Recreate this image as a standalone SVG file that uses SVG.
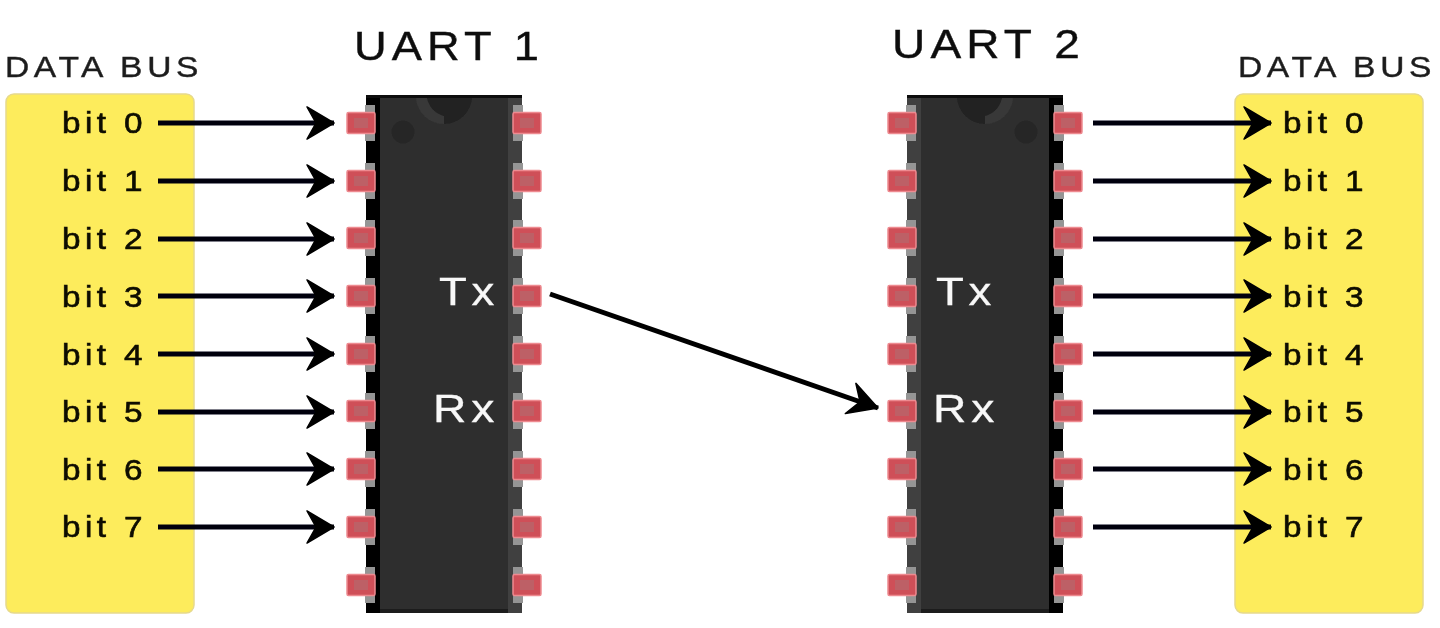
<svg xmlns="http://www.w3.org/2000/svg" width="1440" height="628" viewBox="0 0 1440 628">
<style>
text{font-family:"Liberation Sans",Arial,sans-serif}
.bus{fill:#fdec5c;stroke:#e6d98c;stroke-width:1.500}
.hd{font-size:29px;letter-spacing:4px;fill:#1e1e1e;stroke:#1e1e1e;stroke-width:.4px}
.bit{font-size:30px;letter-spacing:4px;fill:#0c0a00;stroke:#0c0a00;stroke-width:.6px}
.title{font-size:40px;letter-spacing:4.500px;fill:#111;stroke:#111;stroke-width:.4px}
.sig{font-size:39px;letter-spacing:4px;fill:#f8f8f8;stroke:#f8f8f8;stroke-width:.3px}
.wire{stroke:#02020f;stroke-width:5;fill:none;marker-end:url(#ah)}
.wire2{stroke:#000;stroke-width:5;fill:none;marker-end:url(#ah2)}
</style>
<defs>
<filter id="soft" x="-5%" y="-5%" width="110%" height="110%"><feGaussianBlur stdDeviation="0.7"/></filter>
<marker id="ah" markerUnits="userSpaceOnUse" markerWidth="32" markerHeight="38" refX="28" refY="19" orient="auto">
<path d="M1 3L28 19L1 35L10 19Z" fill="#000" stroke="#000" stroke-width="1.500" stroke-linejoin="round"/>
</marker>
<marker id="ah2" markerUnits="userSpaceOnUse" markerWidth="36" markerHeight="38" refX="30" refY="19" orient="auto">
<path d="M1 3L30 19L1 35L11 19Z" fill="#000" stroke="#000" stroke-width="1.500" stroke-linejoin="round"/>
</marker>
<g id="pad"><rect x="-14" y="-10.500" width="28" height="21" rx="1.500" fill="#cf4f58" stroke="#ee8a90" stroke-width="1.500"/><rect x="-7" y="-5" width="14" height="10" fill="#bd6066"/></g>
<g id="nub"><rect x="-5" y="-18" width="10" height="36" fill="#959595"/></g>
</defs>
<rect width="1440" height="628" fill="#fff"/>
<g filter="url(#soft)">
<g id="bus-left">
<text class="hd" x="5" y="77" textLength="198" lengthAdjust="spacingAndGlyphs">DATA BUS</text>
<rect class="bus" x="6" y="94" width="188" height="519" rx="8"/>
<g class="bit">
<text x="62" y="133" textLength="85" lengthAdjust="spacingAndGlyphs">bit 0</text>
<text x="62" y="191" textLength="85" lengthAdjust="spacingAndGlyphs">bit 1</text>
<text x="62" y="249" textLength="85" lengthAdjust="spacingAndGlyphs">bit 2</text>
<text x="62" y="307" textLength="85" lengthAdjust="spacingAndGlyphs">bit 3</text>
<text x="62" y="365" textLength="85" lengthAdjust="spacingAndGlyphs">bit 4</text>
<text x="62" y="422" textLength="85" lengthAdjust="spacingAndGlyphs">bit 5</text>
<text x="62" y="480" textLength="85" lengthAdjust="spacingAndGlyphs">bit 6</text>
<text x="62" y="537" textLength="85" lengthAdjust="spacingAndGlyphs">bit 7</text>
</g>
</g>
<g id="bus-right">
<text class="hd" x="1238" y="77" textLength="198" lengthAdjust="spacingAndGlyphs">DATA BUS</text>
<rect class="bus" x="1235" y="94" width="188" height="519" rx="8"/>
<g class="bit">
<text x="1283" y="133" textLength="85" lengthAdjust="spacingAndGlyphs">bit 0</text>
<text x="1283" y="191" textLength="85" lengthAdjust="spacingAndGlyphs">bit 1</text>
<text x="1283" y="249" textLength="85" lengthAdjust="spacingAndGlyphs">bit 2</text>
<text x="1283" y="307" textLength="85" lengthAdjust="spacingAndGlyphs">bit 3</text>
<text x="1283" y="365" textLength="85" lengthAdjust="spacingAndGlyphs">bit 4</text>
<text x="1283" y="422" textLength="85" lengthAdjust="spacingAndGlyphs">bit 5</text>
<text x="1283" y="480" textLength="85" lengthAdjust="spacingAndGlyphs">bit 6</text>
<text x="1283" y="537" textLength="85" lengthAdjust="spacingAndGlyphs">bit 7</text>
</g>
</g>
<g id="uart-1">
<text class="title" x="354" y="60" textLength="190" lengthAdjust="spacingAndGlyphs">UART 1</text>
<rect x="366" y="95" width="156" height="518" fill="#2f2f2f"/>
<rect x="366" y="95" width="14" height="518" fill="#000"/>
<rect x="508" y="95" width="14" height="518" fill="#3f3f3f"/>
<rect x="366" y="95" width="156" height="3" fill="#111"/>
<rect x="380" y="609" width="128" height="4" fill="#1c1c1c"/>
<path d="M416 98A28 28 0 0 0 444 124V98Z" fill="#383838"/>
<path d="M427 98A23 23 0 0 0 444 116L444 124A28 28 0 0 0 472 98Z" fill="#222"/>
<circle cx="403" cy="132" r="11.500" fill="#282828"/>
<g id="u1-nubs"><use href="#nub" x="370" y="123"/><use href="#nub" x="370" y="181"/><use href="#nub" x="370" y="238"/><use href="#nub" x="370" y="296"/><use href="#nub" x="370" y="354"/><use href="#nub" x="370" y="411"/><use href="#nub" x="370" y="469"/><use href="#nub" x="370" y="527"/><use href="#nub" x="370" y="585"/><use href="#nub" x="518" y="123"/><use href="#nub" x="518" y="181"/><use href="#nub" x="518" y="238"/><use href="#nub" x="518" y="296"/><use href="#nub" x="518" y="354"/><use href="#nub" x="518" y="411"/><use href="#nub" x="518" y="469"/><use href="#nub" x="518" y="527"/><use href="#nub" x="518" y="585"/></g>
<g id="u1-pads"><use href="#pad" x="361" y="123"/><use href="#pad" x="361" y="181"/><use href="#pad" x="361" y="238"/><use href="#pad" x="361" y="296"/><use href="#pad" x="361" y="354"/><use href="#pad" x="361" y="411"/><use href="#pad" x="361" y="469"/><use href="#pad" x="361" y="527"/><use href="#pad" x="361" y="585"/><use href="#pad" x="527" y="123"/><use href="#pad" x="527" y="181"/><use href="#pad" x="527" y="238"/><use href="#pad" x="527" y="296"/><use href="#pad" x="527" y="354"/><use href="#pad" x="527" y="411"/><use href="#pad" x="527" y="469"/><use href="#pad" x="527" y="527"/><use href="#pad" x="527" y="585"/></g>
<text class="sig" x="439" y="305" textLength="60" lengthAdjust="spacingAndGlyphs">Tx</text>
<text class="sig" x="433" y="422" textLength="66" lengthAdjust="spacingAndGlyphs">Rx</text>
</g>
<g id="uart-2">
<text class="title" x="892" y="58" textLength="193" lengthAdjust="spacingAndGlyphs">UART 2</text>
<rect x="907" y="95" width="156" height="518" fill="#2f2f2f"/>
<rect x="907" y="95" width="14" height="518" fill="#3f3f3f"/>
<rect x="1049" y="95" width="14" height="518" fill="#000"/>
<rect x="907" y="95" width="156" height="3" fill="#111"/>
<rect x="921" y="609" width="128" height="4" fill="#1c1c1c"/>
<path d="M1013 98A28 28 0 0 1 985 124V98Z" fill="#383838"/>
<path d="M1002 98A23 23 0 0 1 985 116L985 124A28 28 0 0 1 957 98Z" fill="#222"/>
<circle cx="1026" cy="132" r="11.500" fill="#282828"/>
<g id="u2-nubs"><use href="#nub" x="911" y="123"/><use href="#nub" x="911" y="181"/><use href="#nub" x="911" y="238"/><use href="#nub" x="911" y="296"/><use href="#nub" x="911" y="354"/><use href="#nub" x="911" y="411"/><use href="#nub" x="911" y="469"/><use href="#nub" x="911" y="527"/><use href="#nub" x="911" y="585"/><use href="#nub" x="1059" y="123"/><use href="#nub" x="1059" y="181"/><use href="#nub" x="1059" y="238"/><use href="#nub" x="1059" y="296"/><use href="#nub" x="1059" y="354"/><use href="#nub" x="1059" y="411"/><use href="#nub" x="1059" y="469"/><use href="#nub" x="1059" y="527"/><use href="#nub" x="1059" y="585"/></g>
<g id="u2-pads"><use href="#pad" x="902" y="123"/><use href="#pad" x="902" y="181"/><use href="#pad" x="902" y="238"/><use href="#pad" x="902" y="296"/><use href="#pad" x="902" y="354"/><use href="#pad" x="902" y="411"/><use href="#pad" x="902" y="469"/><use href="#pad" x="902" y="527"/><use href="#pad" x="902" y="585"/><use href="#pad" x="1068" y="123"/><use href="#pad" x="1068" y="181"/><use href="#pad" x="1068" y="238"/><use href="#pad" x="1068" y="296"/><use href="#pad" x="1068" y="354"/><use href="#pad" x="1068" y="411"/><use href="#pad" x="1068" y="469"/><use href="#pad" x="1068" y="527"/><use href="#pad" x="1068" y="585"/></g>
<text class="sig" x="936" y="305" textLength="60" lengthAdjust="spacingAndGlyphs">Tx</text>
<text class="sig" x="933" y="422" textLength="66" lengthAdjust="spacingAndGlyphs">Rx</text>
</g>
<g id="connectors">
<path class="wire" d="M158 123H334"/><path class="wire" d="M158 181H334"/><path class="wire" d="M158 239H334"/><path class="wire" d="M158 296H334"/><path class="wire" d="M158 354H334"/><path class="wire" d="M158 412H334"/><path class="wire" d="M158 469H334"/><path class="wire" d="M158 527H334"/>
<path class="wire" d="M1093 123H1271"/><path class="wire" d="M1093 181H1271"/><path class="wire" d="M1093 239H1271"/><path class="wire" d="M1093 296H1271"/><path class="wire" d="M1093 354H1271"/><path class="wire" d="M1093 412H1271"/><path class="wire" d="M1093 469H1271"/><path class="wire" d="M1093 527H1271"/>
<path class="wire2" d="M550 294L878 408"/>
</g>
</g>
</svg>
